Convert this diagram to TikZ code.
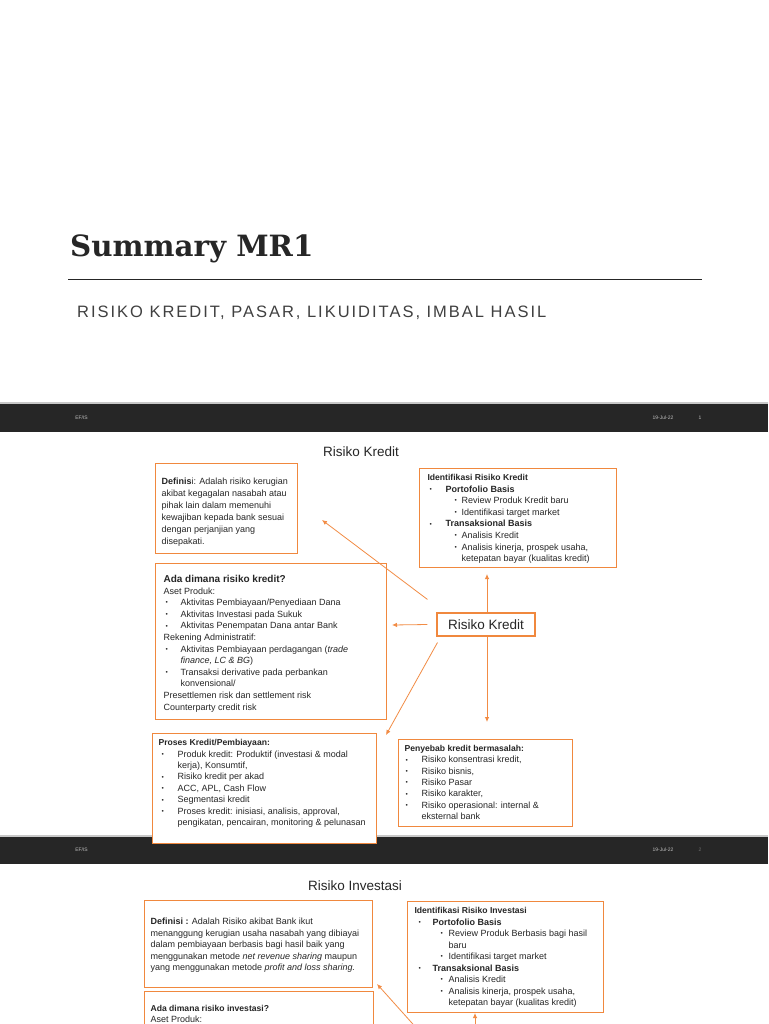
\documentclass[tikz,border=0pt]{standalone}
\usepackage{fontspec}
\setmainfont{Liberation Sans}
\newfontfamily\slabfont{DejaVu Serif}
\newfontfamily\spacedfont[LetterSpace=12]{Liberation Sans}
\usetikzlibrary{arrows.meta,positioning,calc}
\definecolor{Ink}{HTML}{262626}
\definecolor{SubInk}{HTML}{404040}
\definecolor{FootBar}{HTML}{262626}
\definecolor{FootLine}{HTML}{C8C8C8}
\definecolor{FootText}{HTML}{BFBFBF}
\definecolor{FootDim}{HTML}{6E6E6E}
\definecolor{BoxOrange}{HTML}{F0883E}
\definecolor{ArrowOrange}{HTML}{F28C45}

% panel text: left pad, box width, line skip, lines
\newcommand{\rkText}[4]{\hspace*{#1}\makebox[\dimexpr#2-#1\relax][l]{%
  \parbox[t]{\dimexpr#2-#1+40pt\relax}{\baselineskip=#3\relax #4}}}
\newcommand{\rkDot}{\raisebox{0.8pt}{\fontsize{6.5}{6.5}\selectfont\textbullet}}
\newcommand{\rkBul}[3]{\hspace*{#1}\makebox[#2][l]{\rkDot}\mbox{#3}}
\newcommand{\rkCont}[2]{\hspace*{#1}\mbox{#2}}
\newcommand{\rkHd}[1]{{\fontsize{8.6}{11}\selectfont\bfseries #1}}

\begin{document}
\begin{tikzpicture}[x=1pt,y=-1pt]
  \useasboundingbox (0,0) rectangle (768,1024);
  \fill[white] (0,0) rectangle (768,1024);

  \tikzset{
    rkPanel/.style={
      draw=BoxOrange,
      line width=1.1pt,
      fill=white,
      anchor=north west,
      inner sep=0pt,
      text=Ink,
      font=\fontsize{9}{11.5}\selectfont
    },
    rkCore/.style={
      draw=BoxOrange,
      line width=1.1pt,
      fill=white,
      minimum width=98pt,
      minimum height=23pt,
      inner sep=0pt,
      text=Ink,
      font=\fontsize{13.5}{16}\selectfont
    },
    rkHead/.style={
      inner sep=0pt,
      text=Ink,
      font=\fontsize{13.5}{16}\selectfont
    },
    rkFoot/.style={
      inner sep=0pt,
      text=FootText,
      font=\fontsize{5}{6}\selectfont
    },
    rkFlow/.style={
      -{Latex[length=5pt,width=4.5pt]},
      draw=ArrowOrange,
      line width=0.8pt
    }
  }

  % Slide 1: title page
  \node[anchor=base west, inner sep=0pt, text=Ink,
    font=\slabfont\bfseries\fontsize{29.3}{35}\selectfont] (title) at (70,256) {Summary MR1};
  \draw[Ink, line width=1pt] (68,279) -- (702,279);
  \node[anchor=base west, inner sep=0pt, text=SubInk,
    font=\spacedfont\fontsize{16.5}{20}\selectfont] (subtitle) at (77,317)
    {RISIKO KREDIT, PASAR, LIKUIDITAS, IMBAL HASIL};

  % footer bars
  \fill[FootBar] (0,403.5) rectangle (768,432);
  \draw[FootLine, line width=1.5pt] (0,403) -- (768,403);
  \node[rkFoot] (foot1l) at (81.5,418) {EF/IS};
  \node[rkFoot] (foot1d) at (663,418) {19-Jul-22};
  \node[rkFoot] (foot1n) at (700,418) {1};

  \fill[FootBar] (0,836.5) rectangle (768,864);
  \draw[FootLine, line width=1.5pt] (0,836) -- (768,836);
  \node[rkFoot] (foot2l) at (81.5,850) {EF/IS};
  \node[rkFoot] (foot2d) at (663,850) {19-Jul-22};
  \node[rkFoot, text=FootDim] (foot2n) at (700,850) {2};

  % Slide 2: Risiko Kredit
  \node[rkHead] (headk) at (361,452) {Risiko Kredit};

  \node[rkPanel, text height=20.5pt, text depth=69.5pt] (defk) at (155,463)
    {\rkText{6pt}{142pt}{12pt}{%
      \textbf{Definis}i: Adalah risiko kerugian\\
      akibat kegagalan nasabah atau\\
      pihak lain dalam memenuhi\\
      kewajiban kepada bank sesuai\\
      dengan perjanjian yang\\
      disepakati.}};

  \node[rkPanel, text height=12pt, text depth=87pt] (idk) at (419,468)
    {\rkText{8pt}{197pt}{11.6pt}{%
      \rkHd{Identifikasi Risiko Kredit}\\
      \rkBul{2pt}{16pt}{\textbf{Portofolio Basis}}\\
      \rkBul{27pt}{7pt}{Review Produk Kredit baru}\\
      \rkBul{27pt}{7pt}{Identifikasi target market}\\
      \rkBul{2pt}{16pt}{\textbf{Transaksional Basis}}\\
      \rkBul{27pt}{7pt}{Analisis Kredit}\\
      \rkBul{27pt}{7pt}{Analisis kinerja, prospek usaha,}\\
      \rkCont{34pt}{ketepatan bayar (kualitas kredit)}}};

  \node[rkPanel, text height=19pt, text depth=137pt] (adak) at (155,563)
    {\rkText{8pt}{231pt}{11.6pt}{%
      {\fontsize{10}{11.6}\selectfont\bfseries Ada dimana risiko kredit?}\\
      Aset Produk:\\
      \rkBul{2pt}{15pt}{Aktivitas Pembiayaan/Penyediaan Dana}\\
      \rkBul{2pt}{15pt}{Aktivitas Investasi pada Sukuk}\\
      \rkBul{2pt}{15pt}{Aktivitas Penempatan Dana antar Bank}\\
      Rekening Administratif:\\
      \rkBul{2pt}{15pt}{Aktivitas Pembiayaan perdagangan (\emph{trade}}\\
      \rkCont{17pt}{\emph{finance, LC \& BG})}\\
      \rkBul{2pt}{15pt}{Transaksi derivative pada perbankan}\\
      \rkCont{17pt}{konvensional/}\\
      Presettlemen risk dan settlement risk\\
      Counterparty credit risk}};

  \node[rkCore] (rk) at (486,624.5) {Risiko Kredit};

  \node[rkPanel, text height=12pt, text depth=75pt] (penk) at (398,739)
    {\rkText{6pt}{174pt}{11.35pt}{%
      \rkHd{Penyebab kredit bermasalah:}\\
      \rkBul{1pt}{16pt}{Risiko konsentrasi kredit,}\\
      \rkBul{1pt}{16pt}{Risiko bisnis,}\\
      \rkBul{1pt}{16pt}{Risiko Pasar}\\
      \rkBul{1pt}{16pt}{Risiko karakter,}\\
      \rkBul{1pt}{16pt}{Risiko operasional: internal \&}\\
      \rkCont{17pt}{eksternal bank}}};

  \node[rkPanel, text height=12pt, text depth=98pt] (prok) at (152,733)
    {\rkText{6pt}{224pt}{11.45pt}{%
      \rkHd{Proses Kredit/Pembiayaan:}\\
      \rkBul{3pt}{16pt}{Produk kredit: Produktif (investasi \& modal}\\
      \rkCont{19pt}{kerja), Konsumtif,}\\
      \rkBul{3pt}{16pt}{Risiko kredit per akad}\\
      \rkBul{3pt}{16pt}{ACC, APL, Cash Flow}\\
      \rkBul{3pt}{16pt}{Segmentasi kredit}\\
      \rkBul{3pt}{16pt}{Proses kredit: inisiasi, analisis, approval,}\\
      \rkCont{19pt}{pengikatan, pencairan, monitoring \& pelunasan}}};

  % arrows out of the centre box
  \coordinate (toDef)  at (322,520);
  \coordinate (toAda)  at (392,625);
  \coordinate (toPros) at (386,735);
  \coordinate (toIden) at (487,574);
  \coordinate (toPeny) at (487,722);
  \draw[rkFlow] ([shift={(-9,-13)}]rk.north west) -- (toDef);
  \draw[rkFlow] ([xshift=-9pt]rk.west) -- (toAda);
  \draw[rkFlow] ([shift={(1,6)}]rk.south west) -- (toPros);
  \draw[rkFlow] ([xshift=1pt]rk.north) -- (toIden);
  \draw[rkFlow] ([xshift=1pt]rk.south) -- (toPeny);

  % Slide 3: Risiko Investasi
  \node[rkHead] (headi) at (355,886) {Risiko Investasi};

  \node[rkPanel, text height=24pt, text depth=63pt] (defi) at (144,900)
    {\rkText{6pt}{228pt}{11.5pt}{%
      \textbf{Definisi :} Adalah Risiko akibat Bank ikut\\
      menanggung kerugian usaha nasabah yang dibiayai\\
      dalam pembiayaan berbasis bagi hasil baik yang\\
      menggunakan metode \emph{net revenue sharing} maupun\\
      yang menggunakan metode \emph{profit and loss sharing.}}};

  \node[rkPanel, text height=12pt, text depth=99pt] (idi) at (407,901)
    {\rkText{7pt}{196pt}{11.5pt}{%
      \rkHd{Identifikasi Risiko Investasi}\\
      \rkBul{4pt}{14pt}{\textbf{Portofolio Basis}}\\
      \rkBul{26pt}{8pt}{Review Produk Berbasis bagi hasil}\\
      \rkCont{34pt}{baru}\\
      \rkBul{26pt}{8pt}{Identifikasi target market}\\
      \rkBul{4pt}{14pt}{\textbf{Transaksional Basis}}\\
      \rkBul{26pt}{8pt}{Analisis Kredit}\\
      \rkBul{26pt}{8pt}{Analisis kinerja, prospek usaha,}\\
      \rkCont{34pt}{ketepatan bayar (kualitas kredit)}}};

  \node[rkPanel, text height=20pt, text depth=60pt] (adai) at (144,991)
    {\rkText{6pt}{229pt}{11pt}{%
      \rkHd{Ada dimana risiko investasi?}\\
      Aset Produk:}};

  \coordinate (fromInvA) at (420,1032);
  \coordinate (toDefI)   at (377,984);
  \coordinate (fromInvB) at (475,1032);
  \coordinate (toIdenI)  at (475,1013);
  \draw[rkFlow] (fromInvA) -- (toDefI);
  \draw[rkFlow] (fromInvB) -- (toIdenI);
\end{tikzpicture}
\end{document}
